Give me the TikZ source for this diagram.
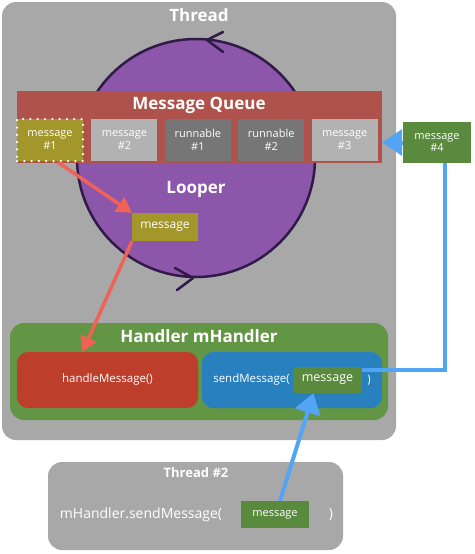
\documentclass[tikz,border=0pt]{standalone}
\usepackage{fontspec}
\setmainfont{Open Sans}
\usetikzlibrary{arrows.meta,positioning}

\definecolor{threadgray}{RGB}{168,168,168}
\definecolor{loopviolet}{RGB}{140,86,170}
\definecolor{looprim}{RGB}{48,26,72}
\definecolor{queuered}{RGB}{176,82,76}
\definecolor{msgolive}{RGB}{163,150,42}
\definecolor{celllight}{RGB}{178,178,178}
\definecolor{celldark}{RGB}{118,118,118}
\definecolor{msggreen}{RGB}{90,138,62}
\definecolor{handlergreen}{RGB}{98,150,68}
\definecolor{handlered}{RGB}{190,62,44}
\definecolor{sendblue}{RGB}{40,128,190}
\definecolor{arrowred}{RGB}{240,98,88}
\definecolor{arrowblue}{RGB}{82,165,245}

\tikzset{
  panel/.style={fill=#1, rounded corners=14pt, inner sep=0pt},
  cell/.style={fill=#1, text=white, align=center, inner sep=0pt,
    font=\fontsize{11}{12.5}\selectfont, minimum width=66pt, minimum height=42pt},
  title/.style={text=white, inner sep=0pt, font=\fontsize{17}{20}\selectfont\bfseries},
  label/.style={text=white, inner sep=0pt, font=\fontsize{11.5}{13}\selectfont},
  redarrow/.style={draw=arrowred, line width=3.5pt, -{Triangle[length=15pt,width=17pt]}},
  bluearrow/.style={draw=arrowblue, line width=4pt, -{Triangle[length=20pt,width=26pt]}},
  blueline/.style={draw=arrowblue, line width=4pt}
}

\begin{document}
\begin{tikzpicture}[x=1pt,y=-1pt]
\useasboundingbox (0,0) rectangle (474,554);

\node[panel=threadgray, minimum width=394pt, minimum height=438pt] (thread) at (199,221) {};
\node[title] (threadlbl) at (199,15) {Thread};

\fill[loopviolet] (196,158) circle (119pt);
\draw[looprim, line width=2.5pt] (196,158) circle (119pt);
\draw[looprim, line width=2.5pt, line cap=round, line join=round] (223,32) -- (207,40) -- (223,52);
\draw[looprim, line width=2.5pt, line cap=round, line join=round] (175,268) -- (193,278) -- (177,290);

\node[fill=queuered, minimum width=365pt, minimum height=72pt, inner sep=0pt] (queue) at (199.5,127) {};
\node[title] (queuelbl) at (199,105) {Message Queue};

\node[cell=msgolive, draw=white, line width=2.5pt, dash pattern=on 0pt off 7.3pt, line cap=round] (c1) at (50,140) {message\\\#1};
\node[cell=celllight] (c2) [right=7pt of c1] {message\\\#2};
\node[cell=celldark] (c3) [right=7pt of c2] {runnable\\\#1};
\node[cell=celldark] (c4) [right=7pt of c3] {runnable\\\#2};
\node[cell=celllight] (c5) [right=7pt of c4] {message\\\#3};

\node[cell=msggreen, minimum width=68pt, minimum height=41pt] (msg4) at (437,142.5) {message\\\#4};

\node[title] (looperlbl) at (196,189) {Looper};
\node[cell=msgolive, minimum width=66pt, minimum height=28pt, font=\fontsize{12}{13}\selectfont] (lmsg) at (165,227) {message};

\node[panel=handlergreen, minimum width=378pt, minimum height=97pt] (handler) at (199,371.5) {};
\node[title] (handlerlbl) at (199,336) {Handler mHandler};

\node[panel=handlered, rounded corners=11pt, minimum width=181pt, minimum height=56pt, label] (handle) at (107.5,380) {handleMessage()};
\node[panel=sendblue, rounded corners=11pt, minimum width=180pt, minimum height=56pt] (send) at (292,380) {};
\node[label] (sendlbl) at (251.5,380) {sendMessage(};
\node[cell=msggreen, minimum width=69pt, minimum height=26pt, font=\fontsize{12.5}{14}\selectfont] (smsg) at (327.5,380) {message};
\node[label] (sendend) at (369,380) {)};

\node[panel=threadgray, minimum width=295pt, minimum height=88pt] (thread2) at (195.5,506) {};
\node[text=white, inner sep=0pt, font=\fontsize{13}{15}\selectfont\bfseries] (thread2lbl) at (196,472.5) {Thread \#2};
\node[text=white, inner sep=0pt, font=\fontsize{14}{16}\selectfont] (calllbl) at (141,515) {mHandler.sendMessage(};
\node[cell=msggreen, minimum width=68pt, minimum height=27pt] (tmsg) at (275,514.5) {message};
\node[text=white, inner sep=0pt, font=\fontsize{14}{16}\selectfont] (callend) at (331,515) {)};

\draw[redarrow] ([xshift=8pt]c1.south) -- (lmsg.north west);
\draw[redarrow] ([xshift=-33pt]lmsg.south) -- ([xshift=-25pt]handle.north);

\draw[blueline] ([yshift=10pt]smsg.east) -| ([xshift=8pt]msg4.south);
\draw[bluearrow] (msg4.west) -- (queue.east |- msg4.west);
\draw[bluearrow] ([xshift=5pt]tmsg.north) -- ([xshift=-14pt]smsg.south);

\end{tikzpicture}
\end{document}
